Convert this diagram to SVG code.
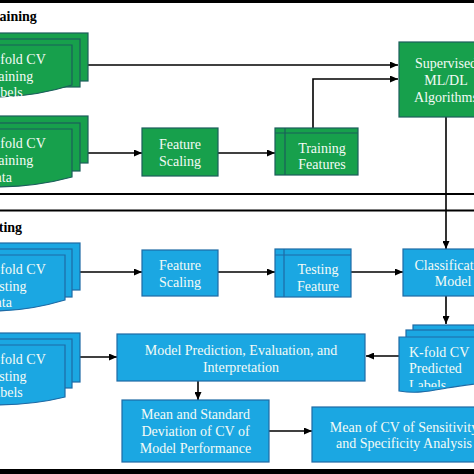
<svg xmlns="http://www.w3.org/2000/svg" width="474" height="474" viewBox="0 0 474 474">
<defs>
<style>
.g{fill:#17a04c;stroke:#1b5e5b;stroke-width:1.2}
.b{fill:#1ba7e2;stroke:#1e6aa5;stroke-width:1.2}
.t{font-family:'Liberation Serif','DejaVu Serif',serif;font-size:14px;fill:#f4fbf6}
.h{font-family:'Liberation Serif','DejaVu Serif',serif;font-size:14px;font-weight:bold;fill:#000}
.c{fill:none;stroke:#000;stroke-width:1.6}
.frame{stroke:#000;fill:none}
</style>
<marker id="ar" markerWidth="8" markerHeight="7" refX="8" refY="3.5" orient="auto" markerUnits="userSpaceOnUse">
<path d="M0,0 L8,3.5 L0,7 z" fill="#000"/>
</marker>
<clipPath id="cpPred"><rect x="399" y="337" width="110" height="50"/></clipPath>
</defs>
<rect width="474" height="474" fill="#fff"/>
<g id="frames">
<line class="frame" x1="0" y1="1.5" x2="474" y2="1.5" stroke-width="3"/>
<line class="frame" x1="0" y1="194" x2="474" y2="194" stroke-width="2"/>
<line class="frame" x1="0" y1="210.5" x2="474" y2="210.5" stroke-width="1.8"/>
<line class="frame" x1="0" y1="471.5" x2="474" y2="471.5" stroke-width="5"/>
<text class="h" x="-15" y="21">Training</text>
<text class="h" x="-21" y="232">Testing</text>
</g>
<g id="connectors">
<path class="c" d="M88,65 H398" marker-end="url(#ar)"/>
<path class="c" d="M313,128 V79 H398" marker-end="url(#ar)"/>
<path class="c" d="M88,153 H142" marker-end="url(#ar)"/>
<path class="c" d="M218,153 H275" marker-end="url(#ar)"/>
<path class="c" d="M446,117 V249" marker-end="url(#ar)"/>
<path class="c" d="M80,272 H142" marker-end="url(#ar)"/>
<path class="c" d="M218,272 H275" marker-end="url(#ar)"/>
<path class="c" d="M351,272 H403" marker-end="url(#ar)"/>
<path class="c" d="M446,296 V324" marker-end="url(#ar)"/>
<path class="c" d="M399,356 H366" marker-end="url(#ar)"/>
<path class="c" d="M80,357 H117" marker-end="url(#ar)"/>
<path class="c" d="M198,381 V400" marker-end="url(#ar)"/>
<path class="c" d="M269,431 H312" marker-end="url(#ar)"/>
</g>
<g id="train-labels">
<rect class="g" x="-32" y="33" width="120" height="48"/>
<rect class="g" x="-40" y="39" width="120" height="48"/>
<path class="g" d="M-48,45 H72 V85 C50,92 25,97 -5,97 C-25,97 -38,93 -48,90 Z"/>
<text class="t" x="-14.5" y="64">K-fold CV</text>
<text class="t" x="-14.5" y="81">Training</text>
<text class="t" x="-14.5" y="97">Labels</text>
</g>
<g id="train-data">
<rect class="g" x="-32" y="116" width="120" height="47"/>
<rect class="g" x="-40" y="123" width="120" height="48"/>
<path class="g" d="M-48,129 H72 V177 C50,183 25,187 -5,187 C-25,187 -38,184 -48,181 Z"/>
<text class="t" x="-14.5" y="148">K-fold CV</text>
<text class="t" x="-14.5" y="165">Training</text>
<text class="t" x="-14.5" y="182">Data</text>
</g>
<g id="train-scaling">
<rect class="g" x="142" y="128" width="76" height="48"/>
<text class="t" x="180" y="149" text-anchor="middle">Feature</text>
<text class="t" x="180" y="166" text-anchor="middle">Scaling</text>
</g>
<g id="train-features">
<rect class="g" x="275" y="128" width="83" height="47"/>
<path class="g" d="M275,133 H358 M285,128 V175" fill="none"/>
<text class="t" x="322" y="153" text-anchor="middle">Training</text>
<text class="t" x="322" y="169" text-anchor="middle">Features</text>
</g>
<g id="supervised">
<rect class="g" x="399" y="42" width="94" height="75"/>
<text class="t" x="446" y="68" text-anchor="middle">Supervised</text>
<text class="t" x="446" y="85" text-anchor="middle">ML/DL</text>
<text class="t" x="446" y="102" text-anchor="middle">Algorithms</text>
</g>
<g id="test-data">
<rect class="b" x="-40" y="243" width="120" height="47"/>
<rect class="b" x="-48" y="249" width="120" height="48"/>
<path class="b" d="M-55,255 H65 V300 C45,306 22,311 -5,311 C-25,311 -40,308 -55,305 Z"/>
<text class="t" x="-14.5" y="274">K-fold CV</text>
<text class="t" x="-14.5" y="291">Testing</text>
<text class="t" x="-14.5" y="307">Data</text>
</g>
<g id="test-scaling">
<rect class="b" x="142" y="250" width="76" height="46"/>
<text class="t" x="180" y="270" text-anchor="middle">Feature</text>
<text class="t" x="180" y="287" text-anchor="middle">Scaling</text>
</g>
<g id="test-feature">
<rect class="b" x="275" y="249" width="76" height="48"/>
<path class="b" d="M275,255 H351 M284,249 V297" fill="none"/>
<text class="t" x="318" y="274" text-anchor="middle">Testing</text>
<text class="t" x="318" y="291" text-anchor="middle">Feature</text>
</g>
<g id="classification">
<rect class="b" x="403" y="249" width="100" height="47"/>
<text class="t" x="453" y="270" text-anchor="middle">Classification</text>
<text class="t" x="453" y="286" text-anchor="middle">Model</text>
</g>
<g id="predicted-labels">
<rect class="b" x="413" y="325" width="100" height="45"/>
<rect class="b" x="406" y="330" width="100" height="47"/>
<path class="b" d="M399,337 H510 V380 C490,382 470,384 447,388 C430,391 418,394 399,391 Z"/>
<g clip-path="url(#cpPred)">
<text class="t" x="409" y="357">K-fold CV</text>
<text class="t" x="409" y="373">Predicted</text>
<text class="t" x="409" y="390">Labels</text>
</g>
</g>
<g id="test-labels">
<rect class="b" x="-40" y="333" width="120" height="49"/>
<rect class="b" x="-48" y="339" width="120" height="49"/>
<path class="b" d="M-55,345 H65 V397 C45,402 22,405 -5,405 C-25,405 -40,402 -55,399 Z"/>
<text class="t" x="-14.5" y="364">K-fold CV</text>
<text class="t" x="-14.5" y="381">Testing</text>
<text class="t" x="-14.5" y="397">Labels</text>
</g>
<g id="model-prediction">
<rect class="b" x="117" y="334" width="248" height="47"/>
<text class="t" x="241" y="355" text-anchor="middle">Model Prediction, Evaluation, and</text>
<text class="t" x="241" y="372" text-anchor="middle">Interpretation</text>
</g>
<g id="mean-std">
<rect class="b" x="122" y="400" width="147" height="62"/>
<text class="t" x="195.5" y="419" text-anchor="middle">Mean and Standard</text>
<text class="t" x="195.5" y="436" text-anchor="middle">Deviation of CV of</text>
<text class="t" x="195.5" y="453" text-anchor="middle">Model Performance</text>
</g>
<g id="mean-sens">
<rect class="b" x="312" y="407" width="184" height="55"/>
<text class="t" x="404" y="432" text-anchor="middle">Mean of CV of Sensitivity</text>
<text class="t" x="404" y="448" text-anchor="middle">and Specificity Analysis</text>
</g>
</svg>
